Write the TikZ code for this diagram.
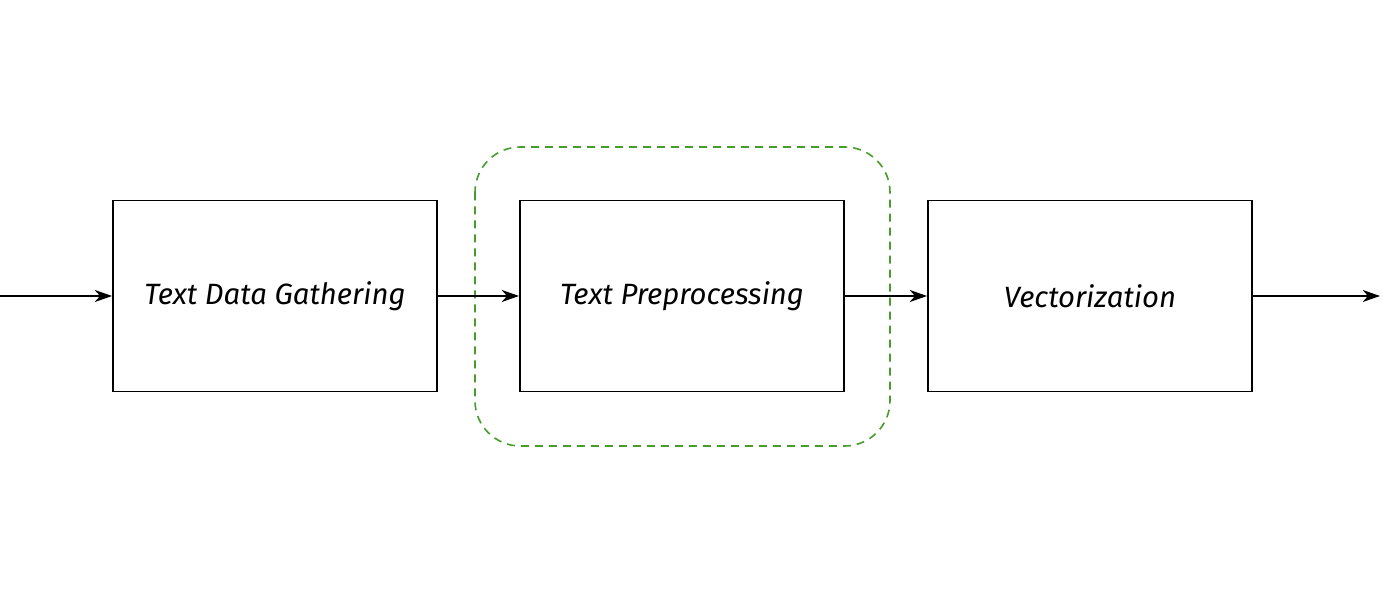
\documentclass[tikz,border=0pt]{standalone}
\usepackage{fontspec}
\setmainfont{Fira Sans}
\usetikzlibrary{arrows.meta}
\definecolor{grn}{RGB}{72,156,46}
\begin{document}
\begin{tikzpicture}[x=0.75pt,y=-0.75pt,
  stage/.style={draw=black,line width=1.4pt,minimum width=324*0.75pt,minimum height=191*0.75pt,inner sep=0pt,font=\itshape\fontsize{22}{26}\selectfont},
  flow/.style={line width=1.4pt,-{Stealth[length=13pt,width=9pt,inset=4pt]}}]
\useasboundingbox[fill=white] (0,0) rectangle (1400,598);
\draw[grn,line width=1.2pt,dash pattern=on 6pt off 4.5pt,rounded corners=34pt] (475,147) rectangle (890,446);
\node[stage] (a) at (275,296) {\raisebox{-2pt}{Text Data Gathering}};
\node[stage] (b) at (682,296) {\raisebox{-2pt}{Text Preprocessing}};
\node[stage] (c) at (1090,296) {\raisebox{-2pt}{Vectorization}};
\coordinate (in) at (0,296);
\coordinate (out) at (1380,296);
\draw[flow] (in) -- (a.west);
\draw[flow] (a.east) -- (b.west);
\draw[flow] (b.east) -- (c.west);
\draw[flow] (c.east) -- (out);
\end{tikzpicture}
\end{document}
